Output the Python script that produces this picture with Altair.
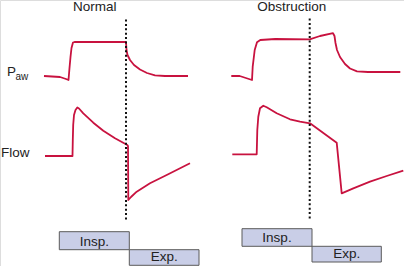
import altair as alt
import pandas as pd

# ---- data (schematic coordinates) ----
normal_paw_x = [44, 60, 66, 68.5, 69.5, 70.5, 71.5, 73, 74.5, 126, 126.5, 127.5, 130, 134, 140, 147, 155, 165, 188]
normal_paw_y = [76, 77, 79, 80, 68, 57, 48, 42.5, 42, 42, 50, 55, 60, 65, 69.5, 73, 75.3, 76, 76]

normal_flow_x = [45, 72.5, 72.8, 73.2, 74, 75.5, 77.3, 79, 83.3, 93.3, 103.3, 115, 127.3, 128, 128.3, 131, 136.7, 150, 166.7, 190]
normal_flow_y = [156, 156, 140, 125, 115, 110, 107.5, 108.5, 113.3, 122.7, 130.7, 138.3, 145, 146, 200, 197, 191.7, 183.3, 175, 163.3]

obst_paw_x = [231.3, 239.7, 252, 252.7, 254.7, 257, 260.3, 275.3, 309.7, 320, 333, 334.5, 335.5, 337, 340, 345, 350, 357, 368, 400.3]
obst_paw_y = [76, 76, 80, 66.7, 50, 42.3, 40, 39, 39.3, 36, 33.2, 36, 43, 50, 57, 64, 68.5, 71.3, 72, 72]

obst_flow_x = [232.3, 256.7, 257.3, 258.3, 260, 263.3, 266.7, 276.7, 290, 300, 310, 336.7, 341.7, 353.3, 370, 386.7, 403.3]
obst_flow_y = [154.3, 154.3, 130, 116.7, 108.3, 105.7, 107.3, 113.3, 119.3, 121.7, 123.3, 142.7, 193.3, 188.3, 181.7, 176, 170.7]

divider_x = [126, 309.7]
divider_top = [19.5, 18.5]
divider_bottom = [222, 221]

box_labels = ["Insp.", "Exp.", "Insp.", "Exp."]
box_x1 = [59.3, 129.3, 242, 312]
box_x2 = [129.3, 199, 312, 381.3]
box_y1 = [231.7, 249.7, 228.7, 246.3]
box_y2 = [249.7, 265.3, 246.3, 262]

titles = ["Normal", "Obstruction"]
title_x = [94.7, 291.7]

# ---- tables ----
rows = []
for name, xs, ys in [("normal_paw", normal_paw_x, normal_paw_y),
                     ("normal_flow", normal_flow_x, normal_flow_y),
                     ("obst_paw", obst_paw_x, obst_paw_y),
                     ("obst_flow", obst_flow_x, obst_flow_y)]:
    for i, (xv, yv) in enumerate(zip(xs, ys)):
        rows.append({"series": name, "order": i, "x": xv, "y": yv})
curves = pd.DataFrame(rows)

dividers = pd.DataFrame({"x": divider_x, "y": divider_top, "y2": divider_bottom})
boxes = pd.DataFrame({"label": box_labels, "x": box_x1, "x2": box_x2, "y": box_y1, "y2": box_y2})
boxes["cx"] = (boxes["x"] + boxes["x2"]) / 2
boxes["ty"] = boxes["y2"] - 4
title_df = pd.DataFrame({"text": titles, "x": title_x, "y": [10.5, 10.5]})
row_labels = pd.DataFrame({"text": ["P", "Flow"], "x": [7, 1], "y": [76, 157]})
sub_label = pd.DataFrame({"text": ["aw"], "x": [15.5], "y": [80]})

xs = alt.Scale(domain=[0, 404], nice=False, zero=False)
ys = alt.Scale(domain=[0, 266], nice=False, zero=False, reverse=True)
X = lambda f: alt.X(f, type="quantitative", scale=xs, axis=None)
Y = lambda f: alt.Y(f, type="quantitative", scale=ys, axis=None)

RED = "#c8123f"
FONT = "Liberation Sans"

lines = alt.Chart(curves).mark_line(color=RED, strokeWidth=1.8, strokeJoin="round").encode(
    x=X("x"), y=Y("y"), detail="series:N", order="order:Q")

rules = alt.Chart(dividers).mark_rule(color="#111111", strokeWidth=2, strokeDash=[2, 2.4]).encode(
    x=X("x"), y=Y("y"), y2="y2")

rects = alt.Chart(boxes).mark_rect(fill="#c9cee7", stroke="#5a5a5a", strokeWidth=1).encode(
    x=X("x"), x2="x2", y=Y("y"), y2="y2")

box_text = alt.Chart(boxes).mark_text(font=FONT, fontSize=13.5, color="#222222", baseline="alphabetic").encode(
    x=X("cx"), y=Y("ty"), text="label:N")

title_text = alt.Chart(title_df).mark_text(font=FONT, fontSize=13.5, color="#222222", baseline="alphabetic").encode(
    x=X("x"), y=Y("y"), text="text:N")

row_text = alt.Chart(row_labels).mark_text(font=FONT, fontSize=13.5, color="#222222", baseline="alphabetic", align="left").encode(
    x=X("x"), y=Y("y"), text="text:N")

sub_text = alt.Chart(sub_label).mark_text(font=FONT, fontSize=10, color="#222222", baseline="alphabetic", align="left").encode(
    x=X("x"), y=Y("y"), text="text:N")

chart = alt.layer(rects, box_text, lines, rules, title_text, row_text, sub_text).properties(
    width=404, height=266, padding=0, autosize=alt.AutoSizeParams(type="none")
).configure_view(stroke=None).configure(background="white")

chart.save("out.html", embed_options={"renderer": "svg", "actions": False})
